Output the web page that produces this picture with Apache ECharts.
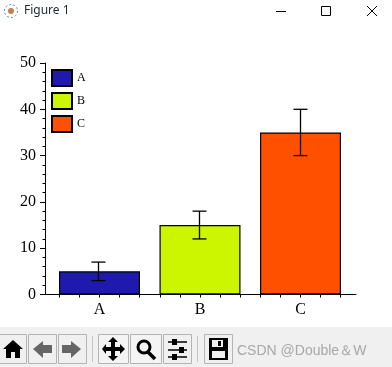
<!DOCTYPE html>
<html><head><meta charset="utf-8">
<style>html,body{margin:0;padding:0;background:#fff}#c{width:392px;height:367px}</style>
<script src="https://cdn.jsdelivr.net/npm/echarts@6/dist/echarts.min.js"></script>
</head><body><div id="c"></div>
<script>
const categories = ['A', 'B', 'C'];
const values = [5, 15, 35];
const errors = [2, 3, 5];
const colors = ['#1f1aad', '#ccf600', '#ff5000'];
const xTicks = [-0.4,-0.2,0,0.2,0.4,0.6,0.8,1,1.2,1.4,1.6,1.8,2,2.2,2.4];
const xLabels = [0, 1, 2];

const serif = '"Liberation Serif","Times New Roman",serif';
const chart = echarts.init(document.getElementById('c'), null, {renderer:'canvas'});

function btn(x, w, raised){
  return {type:'rect', shape:{x:x+0.5,y:334.5,width:w,height:29},
    style:{fill:raised?'#f4f4f4':'#f0f0f0',stroke:'#b4b4b4',lineWidth:1}, z:5};
}
function poly(points, fill){ return {type:'polygon', shape:{points}, style:{fill:fill||'#000'}, z:6}; }
function box(x,y,w,h,fill){ return {type:'rect', shape:{x,y,width:w,height:h}, style:{fill:fill||'#000'}, z:6}; }
function seg(x1,y1,x2,y2,w){ return {type:'line', shape:{x1,y1,x2,y2}, style:{stroke:'#000',lineWidth:w||1}, z:6}; }

const chrome = [
  // title bar
  {type:'circle', shape:{cx:11,cy:11,r:6.5}, style:{fill:null,stroke:'#6a8fa8',lineWidth:1,lineDash:[2,2]}},
  {type:'circle', shape:{cx:11,cy:11,r:3}, style:{fill:'#c08050'}},
  {type:'text', x:24, y:5, style:{text:'Figure 1', font:'12px "Noto Sans",sans-serif', fill:'#1a2a3a'}},
  seg(276,11.5,286,11.5),
  {type:'rect', shape:{x:321.5,y:6.5,width:9,height:9}, style:{fill:null,stroke:'#000',lineWidth:1}},
  seg(367,6,377,16), seg(377,6,367,16),
  // toolbar
  {type:'rect', shape:{x:0,y:327,width:392,height:40}, style:{fill:'#f0f0f0'}, z:1},
  btn(-1,27), btn(28,28), btn(58,28), btn(98,30,true), btn(130,31,true), btn(163,28), btn(204,28),
  box(92,336,1,26,'#c4c4c4'), box(197,336,1,26,'#c4c4c4'),
  // home
  poly([[13,340],[23,349],[20,349],[20,358],[15,358],[15,352],[11,352],[11,358],[6,358],[6,349],[3,349]]),
  // back
  poly([[33,349],[43,341],[43,345],[52,345],[52,353],[43,353],[43,358]],'#666'),
  // forward
  poly([[81,349],[71,341],[71,345],[62,345],[62,353],[71,353],[71,358]],'#666'),
  // pan
  poly([[113,337],[118,342],[115,342],[115,347],[120,347],[120,344],[125,349],[120,354],[120,351],[115,351],[115,356],[118,356],[113,361],[108,356],[111,356],[111,351],[106,351],[106,354],[102,349],[106,344],[106,347],[111,347],[111,342],[108,342]]),
  // zoom
  {type:'circle', shape:{cx:144,cy:347,r:6}, style:{fill:null,stroke:'#000',lineWidth:3}, z:6},
  seg(148,352,155,359,3.5),
  // settings
  seg(168,342,187,342,1.5), seg(168,350,187,350,1.5), seg(168,357,187,357,1.5),
  box(172,339,5,6), box(179,347,5,6), box(172,354,5,6),
  // save
  box(209,338,19,22), box(212,340,11,7,'#f0f0f0'), box(212,351,13,7,'#f0f0f0'), box(218,341,3,5),
  {type:'text', x:237, y:344, style:{text:'CSDN @Double＆W', font:'14px "Liberation Sans",sans-serif', fill:'#a8a8a8'}, z:7}
];

const barSeries = categories.map((name, i) => ({
  name, type:'bar', barWidth:81, barGap:'-100%',
  data:[[i, values[i]]],
  itemStyle:{color:colors[i], borderColor:'#000', borderWidth:1.2},
  z:2
}));

const errSeries = {
  type:'custom', silent:true, z:3,
  data: categories.map((c,i)=>[i, values[i]-errors[i], values[i]+errors[i]]),
  encode:{x:0,y:[1,2]},
  renderItem(params, api){
    const lo = api.coord([api.value(0), api.value(1)]);
    const hi = api.coord([api.value(0), api.value(2)]);
    const x = Math.round(lo[0]) - 0.5, c = 7;
    const st = {stroke:'#000', lineWidth:1.3, fill:null};
    return {type:'group', children:[
      {type:'line', shape:{x1:x,y1:lo[1],x2:x,y2:hi[1]}, style:st},
      {type:'line', shape:{x1:x-c,y1:lo[1],x2:x+c,y2:lo[1]}, style:st},
      {type:'line', shape:{x1:x-c,y1:hi[1],x2:x+c,y2:hi[1]}, style:st}
    ]};
  }
};

chart.setOption({
  animation:false,
  backgroundColor:'#fff',
  grid:{left:45, right:36, top:63, bottom:72.5, containLabel:false},
  legend:{
    left:51, top:69, orient:'vertical', itemWidth:20, itemHeight:16, itemGap:5,
    icon:'rect',
    data:categories,
    textStyle:{fontFamily:serif, fontSize:12, color:'#000'},
    selectedMode:false, padding:0
  },
  xAxis:{
    type:'value', min:-0.542, max:2.552, splitLine:{show:false},
    axisLine:{onZero:false, lineStyle:{color:'#000',width:1}},
    axisTick:{show:true, length:3, customValues:xTicks, lineStyle:{color:'#000'}},
    axisLabel:{show:true, customValues:xLabels, margin:7,
      formatter:v=>categories[Math.round(v)], fontFamily:serif, fontSize:16, color:'#000'}
  },
  yAxis:{
    type:'value', min:0, max:50, interval:10, splitLine:{show:false},
    axisLine:{show:true, onZero:false, lineStyle:{color:'#000',width:1}},
    axisTick:{show:true, length:5, lineStyle:{color:'#000'}},
    minorTick:{show:true, splitNumber:5, length:2.5, lineStyle:{color:'#000'}},
    axisLabel:{margin:9, fontFamily:serif, fontSize:16, color:'#000'}
  },
  series:[...barSeries, errSeries],
  graphic:{elements:chrome}
});
</script></body></html>
